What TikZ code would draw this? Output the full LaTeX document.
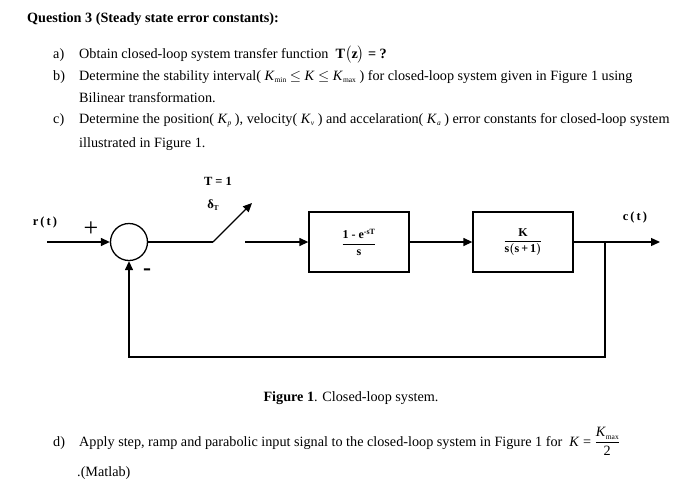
\documentclass[tikz,border=0pt]{standalone}
\usepackage{amsmath}
\usepackage{fontspec}
\setmainfont{Liberation Serif}
\usetikzlibrary{arrows.meta}
\newcommand{\sbs}[1]{\raisebox{-0.45ex}{\fontsize{7.5}{8}\selectfont #1}}
\begin{document}
\begin{tikzpicture}[x=1pt,y=-1pt,
  txt/.style={anchor=base west,inner sep=0pt,font=\fontsize{14.2}{17}\selectfont},
  lbl/.style={inner sep=0pt,font=\fontsize{12.5}{14}\selectfont\bfseries},
  block/.style={draw,line width=1.3pt,minimum width=100pt,minimum height=60pt,inner sep=0pt,font=\fontsize{12}{14}\selectfont\bfseries},
  wire/.style={line width=1.3pt},
  arr/.style={wire,-{Triangle[length=9pt,width=8pt]}}]
\useasboundingbox (0,0) rectangle (700,498);
% text
\node[txt,font=\fontsize{14.2}{17}\selectfont\bfseries] (title) at (27,22) {Question 3 (Steady state error constants):};
\node[txt] (la) at (53,58) {a)};
\node[txt] (ta) at (79,58) {Obtain closed-loop system transfer function \ \textbf{T$\boldsymbol{\big(}$z$\boldsymbol{\big)}$ = ?}};
\node[txt] (lb) at (53,80) {b)};
\node[txt] (tb) at (79,80) {Determine the stability interval( \textit{K}\sbs{min} $\le$ \textit{K} $\le$ \textit{K}\sbs{max} ) for closed-loop system given in Figure 1 using};
\node[txt] (tb2) at (79,102) {Bilinear transformation.};
\node[txt] (lc) at (53,123) {c)};
\node[txt] (tc) at (79,123) {Determine the position( \textit{K}\sbs{\textit{p}} ), velocity( \textit{K}\sbs{\textit{v}} ) and accelaration( \textit{K}\sbs{\textit{a}} ) error constants for closed-loop system};
\node[txt] (tc2) at (79,147) {illustrated in Figure 1.};
% diagram
\node[circle,draw,line width=1.3pt,minimum size=37pt,inner sep=0pt] (sum) at (129,242) {};
\coordinate (in) at (47,242);
\coordinate (sw1) at (213,242);
\coordinate (sw2) at (252,203);
\coordinate (sw3) at (245,242);
\node[block] (g1) at (359,242) {$\dfrac{\text{1 - e}^{\text{-sT}}}{\text{s}}$};
\node[block] (g2) at (523,242) {$\dfrac{\text{K}}{\text{s}\boldsymbol{(}\text{s\,+\,1}\boldsymbol{)}}$};
\coordinate (br) at (605,242);
\coordinate (out) at (660,242);
\coordinate (fb) at (605,357);
\draw[arr] (in) -- (sum.west);
\draw[wire] (sum.east) -- (sw1);
\draw[arr] (sw1) -- (sw2);
\draw[arr] (sw3) -- (g1.west);
\draw[arr] (g1.east) -- (g2.west);
\draw[arr] (g2.east) -- (out);
\draw[arr] (br) -- (fb) -| (sum.south);
\node[lbl] (rt) at (45,222) {r\,(\,t\,)};
\node[inner sep=0pt,font=\fontsize{26}{26}\selectfont] (plus) at (91,229) {+};
\node[inner sep=0pt,font=\fontsize{24}{24}\selectfont\bfseries] (minus) at (147,272) {-};
\node[lbl] (T1) at (218,181) {T = 1};
\node[lbl] (dT) at (213,205) {δ\sbs{T}};
\node[lbl] (ct) at (635,217) {c\,(\,t\,)};
% caption and d)
\node[txt,anchor=base] (cap) at (351,401) {\textbf{Figure 1}. Closed-loop system.};
\node[txt] (ld) at (53,446) {d)};
\node[txt] (td) at (79,446) {Apply step, ramp and parabolic input signal to the closed-loop system in Figure 1 for \ \textit{K} = $\dfrac{\text{\textit{K}\sbs{max}}}{\text{2}}$};
\node[txt] (td2) at (77,476) {.(Matlab)};
\end{tikzpicture}
\end{document}
